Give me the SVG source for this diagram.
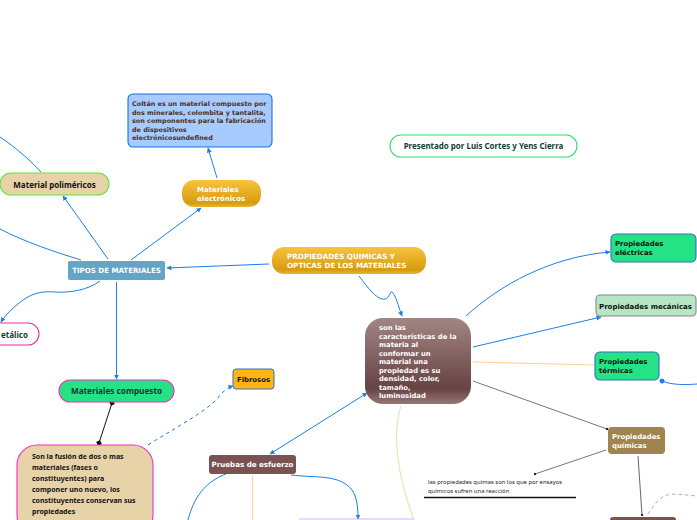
<svg xmlns="http://www.w3.org/2000/svg" width="697" height="520" viewBox="0 0 697 520">
<defs>
<linearGradient id="gold" x1="0" y1="0" x2="0" y2="1"><stop offset="0" stop-color="#f8c33c"/><stop offset="0.85" stop-color="#d79c10"/><stop offset="1" stop-color="#eab52e"/></linearGradient>
<linearGradient id="brown" x1="0" y1="0" x2="0" y2="1"><stop offset="0" stop-color="#a28584"/><stop offset="0.82" stop-color="#674343"/><stop offset="1" stop-color="#967776"/></linearGradient>
<marker id="a" markerWidth="6" markerHeight="6" refX="4.500" refY="2.500" orient="auto-start-reverse" markerUnits="userSpaceOnUse"><path d="M0 0L5 2.500L0 5Z" fill="#1a7fe8"/></marker>
<marker id="b" markerWidth="6" markerHeight="6" refX="3" refY="3" orient="auto" markerUnits="userSpaceOnUse"><circle cx="3" cy="3" r="2.400" fill="#1a7fe8"/></marker>
<marker id="k" markerWidth="7" markerHeight="7" refX="3.500" refY="3.500" orient="auto" markerUnits="userSpaceOnUse"><path d="M0.500 3.500L3.500 0.500L6.500 3.500L3.500 6.500Z" fill="#111"/></marker>
<marker id="g" markerWidth="3" markerHeight="3" refX="1.500" refY="1.500" orient="auto" markerUnits="userSpaceOnUse"><circle cx="1.500" cy="1.500" r="1.200" fill="#222"/></marker>
</defs>
<style>
text{font-family:"DejaVu Sans","Noto Sans",sans-serif;font-weight:700}
.n{font-family:"Noto Sans","Open Sans",sans-serif}
.c{fill:none;stroke:#1a7fe8;stroke-width:1}
.w{fill:#fff}
.d{fill:#111}
</style>
<rect width="697" height="520" fill="#fff"/>
<g id="connectors">
<path class="c" d="M0 137C15 147 30 160 41 172"/>
<path class="c" marker-end="url(#a)" d="M108 259L63 196"/>
<path class="c" d="M0 229C25 242 55 252 81 260"/>
<path class="c" marker-end="url(#a)" d="M131 260L201 208"/>
<path class="c" marker-end="url(#a)" d="M217 178L208 148"/>
<path class="c" marker-end="url(#a)" d="M269 264L167 268"/>
<path class="c" marker-end="url(#a)" d="M100 281C88 290 70 293 55 292C42 291 33 293 23 300C15 306 6 314 1 322"/>
<path class="c" marker-end="url(#a)" d="M116.500 282V379"/>
<path d="M99 443L112 403" stroke="#111" stroke-width="1" fill="none" marker-start="url(#k)" marker-end="url(#k)"/>
<path class="c" stroke-dasharray="3.500 3.500" marker-end="url(#a)" d="M148 445C180 425 205 412 218 398C222 392 227 388 233 386"/>
<path class="c" marker-end="url(#a)" d="M359 276C368 288 378 301 385 299C390 298 390 290 392 292C396 296 398 305 402 316"/>
<path class="c" marker-start="url(#a)" marker-end="url(#a)" d="M367 393L270 454"/>
<path class="c" d="M226 474C205 482 194 497 188 520"/>
<path d="M252.500 475V520" stroke="#fdd9a0" stroke-width="1.300" fill="none"/>
<path class="c" marker-end="url(#a)" d="M291 475C315 478 340 474 352 490C357 497 358 508 358 519"/>
<path d="M401 406C393 430 395 470 414 520" stroke="#c7f29a" stroke-width="1" fill="none"/>
<path class="c" marker-end="url(#a)" d="M466 316C500 285 550 257 610 252"/>
<path class="c" marker-end="url(#a)" d="M473 347L601 317"/>
<path d="M473 362L595 365" stroke="#fcd59a" stroke-width="1.200" fill="none"/>
<path d="M473 381L607 429" stroke="#777" stroke-width="1" fill="none" marker-end="url(#g)"/>
<path d="M606 450L535 474" stroke="#777" stroke-width="1" fill="none" marker-end="url(#g)"/>
<path d="M638 456L642 515" stroke="#666" stroke-width="1" fill="none" marker-end="url(#g)"/>
<path d="M648 514C654 505 660 497 667 495C675 493 685 495 697 496" stroke="#bb9fe0" stroke-width="1" stroke-dasharray="3.500 3" fill="none"/>
<path class="c" marker-start="url(#b)" d="M662 381C672 385 685 385 697 384"/>
<path d="M424 497.500H576" stroke="#111" stroke-width="1.300" fill="none"/>
</g>
<g id="n-coltan"><rect x="128" y="94" width="144" height="53" rx="5" fill="#a8cbff" stroke="#1a70e0" stroke-width="1.100"/><text fill="#4a2f22" font-size="6.450"><tspan x="132" y="106">Coltán es un material compuesto por</tspan><tspan x="132" dy="8.500">dos minerales, colombita y tantalita,</tspan><tspan x="132" dy="8.500">son componentes para la fabricación</tspan><tspan x="132" dy="8.500">de dispositivos</tspan><tspan x="132" dy="8.500">electrónicosundefined</tspan></text></g>
<g id="n-presentado"><rect x="390" y="135" width="187" height="22" rx="11" fill="#fff" stroke="#29e36c" stroke-width="1.100"/><text class="n" x="483.500" y="149" text-anchor="middle" fill="#123f33" font-size="7.950">Presentado por Luis Cortes y Yens Cierra</text></g>
<g id="n-polimericos"><rect x="0" y="173" width="109" height="22" rx="11" fill="#e8d3a8" stroke="#5be83a" stroke-width="1.100"/><text class="n d" x="54.500" y="187.500" text-anchor="middle" font-size="8">Material poliméricos</text></g>
<g id="n-electronicos"><rect x="182" y="180" width="79" height="27" rx="12" fill="url(#gold)"/><text class="w" font-size="7"><tspan x="197" y="192">Materiales</tspan><tspan x="197" dy="9">electrónicos</tspan></text></g>
<g id="n-propiedades"><rect x="272" y="247" width="154" height="27" rx="12" fill="url(#gold)"/><text class="w" font-size="7.200"><tspan x="287" y="259">PROPIEDADES QUIMICAS Y</tspan><tspan x="287" dy="9">OPTICAS DE LOS MATERIALES</tspan></text></g>
<g id="n-tipos"><rect x="68" y="261" width="97" height="19" rx="2" fill="#62a5c6"/><text class="w" x="116.500" y="273" text-anchor="middle" font-size="7.050">TIPOS DE MATERIALES</text></g>
<g id="n-metalico"><path d="M0 323H28A11 11 0 0 1 28 345H0" fill="#fff" stroke="#f02ca0" stroke-width="1.100"/><text class="n" x="1" y="338" fill="#123f33" font-size="8">etálico</text></g>
<g id="n-compuesto"><rect x="59" y="380" width="115" height="22" rx="11" fill="#25e384" stroke="#f02ccc" stroke-width="1.100"/><text class="n" x="116.500" y="394" text-anchor="middle" fill="#0f3a2d" font-size="8.200">Materiales compuesto</text></g>
<g id="n-fusion"><rect x="17" y="445" width="136" height="90" rx="20" fill="#e8d3a8" stroke="#f02ccc" stroke-width="1.100"/><text class="n d" font-size="7"><tspan x="32" y="459">Son la fusión de dos o mas</tspan><tspan x="32" dy="11">materiales (fases o</tspan><tspan x="32" dy="11">constituyentes) para</tspan><tspan x="32" dy="11">componer uno nuevo, los</tspan><tspan x="32" dy="11">constituyentes conservan sus</tspan><tspan x="32" dy="11">propiedades</tspan></text></g>
<g id="n-fibrosos"><rect x="233" y="369" width="41" height="20" rx="3" fill="#ffb612" stroke="#2f6fc8" stroke-width="1"/><text x="253.500" y="382" text-anchor="middle" class="d" font-size="6.900">Fibrosos</text></g>
<g id="n-son"><rect x="365" y="318" width="106" height="86" rx="18" fill="url(#brown)"/><text class="w" font-size="6.800"><tspan x="379" y="330">son las</tspan><tspan x="379" dy="8.500">características de la</tspan><tspan x="379" dy="8.500">materia al</tspan><tspan x="379" dy="8.500">conformar un</tspan><tspan x="379" dy="8.500">material una</tspan><tspan x="379" dy="8.500">propiedad es su</tspan><tspan x="379" dy="8.500">densidad, color,</tspan><tspan x="379" dy="8.500">tamaño,</tspan><tspan x="379" dy="8.500">luminosidad</tspan></text></g>
<g id="n-electricas"><rect x="611" y="234" width="85" height="28" rx="5" fill="#25e384" stroke="#2a72c8" stroke-width="1.100"/><text class="d" font-size="6.900"><tspan x="615" y="246">Propiedades</tspan><tspan x="615" dy="9">eléctricas</tspan></text></g>
<g id="n-mecanicas"><rect x="596" y="295" width="100" height="21" rx="4" fill="#b7e6c4" stroke="#888" stroke-width="1.100"/><text class="d" x="599" y="309" font-size="7">Propiedades mecánicas</text></g>
<g id="n-termicas"><rect x="595" y="352" width="64" height="28" rx="5" fill="#25e384" stroke="#2a72c8" stroke-width="1.100"/><text class="d" font-size="6.900"><tspan x="599" y="364">Propiedades</tspan><tspan x="599" dy="9">térmicas</tspan></text></g>
<g id="n-quimicas"><rect x="608" y="427" width="57" height="27" rx="4" fill="#a08450"/><text class="w" font-size="6.900"><tspan x="612" y="439">Propiedades</tspan><tspan x="612" dy="9">químicas</tspan></text></g>
<g id="n-pruebas"><rect x="209" y="455" width="87" height="19" rx="3" fill="#7a5252"/><text class="w" x="252.500" y="467" text-anchor="middle" font-size="7.100">Pruebas de esfuerzo</text></g>
<g id="n-purple"><path d="M299 519H414" stroke="#d0b8f0" stroke-width="1.200" fill="none"/></g>
<g id="n-brown2"><rect x="610" y="517" width="66" height="10" rx="3" fill="#7a5252"/></g>
<g id="n-quimas"><text class="n" fill="#222" font-size="5.900" style="font-weight:400"><tspan x="428" y="484">las propiedades quimas son los que por ensayos</tspan><tspan x="428" dy="8.500">químicos sufren una reacción</tspan></text></g>
</svg>
